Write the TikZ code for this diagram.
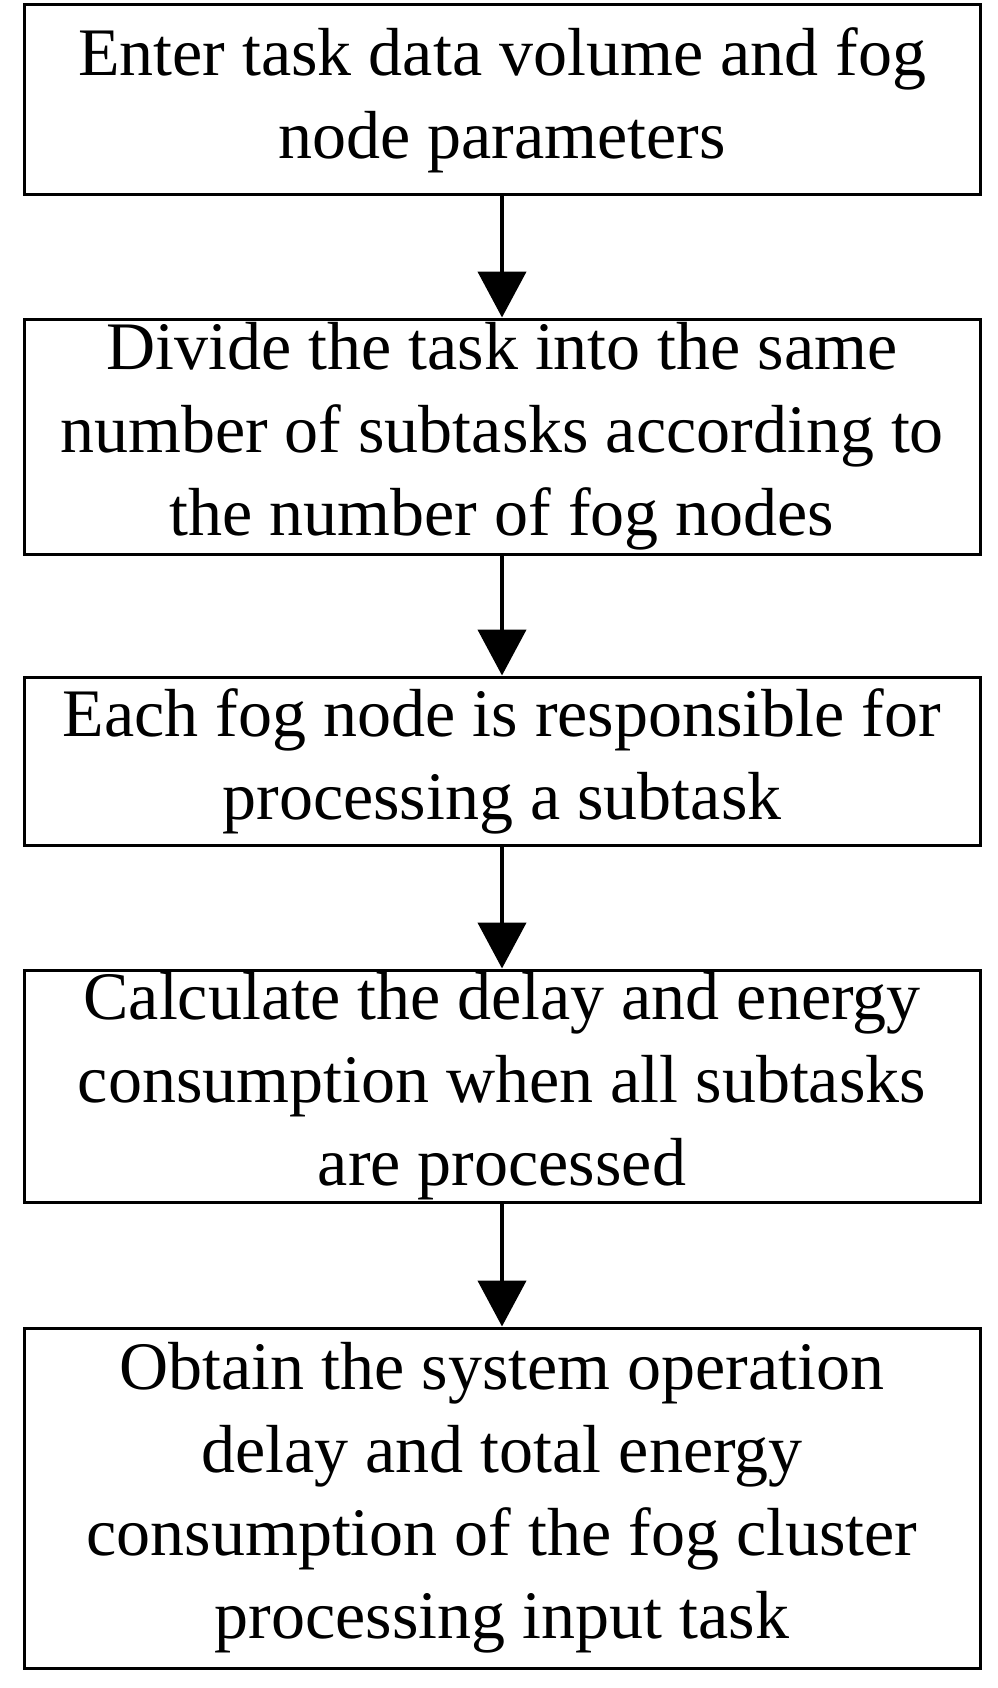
\documentclass[tikz,border=0pt]{standalone}
\usepackage{fontspec}
\setmainfont{Liberation Serif}
\usetikzlibrary{arrows.meta}
\begin{document}
\begin{tikzpicture}[x=1pt,y=-1pt,
  box/.style={draw,line width=3pt,align=center,font=\fontsize{68}{83}\selectfont,inner sep=0pt},
  arr/.style={line width=4.5pt,-{Triangle[width=48pt,length=46pt]}}]
\useasboundingbox (0,0) rectangle (997,1688);
\node[box,minimum width=956pt,minimum height=190pt] (b1) at (502,100) {Enter task data volume and fog\\node parameters};
\node[box,minimum width=956pt,minimum height=235pt] (b2) at (502,436.5) {Divide the task into the same\\number of subtasks according to\\the number of fog nodes};
\node[box,minimum width=956pt,minimum height=168pt] (b3) at (502,761) {Each fog node is responsible for\\processing a subtask};
\node[box,minimum width=956pt,minimum height=232pt] (b4) at (502,1086) {Calculate the delay and energy\\consumption when all subtasks\\are processed};
\node[box,minimum width=956pt,minimum height=340pt] (b5) at (502,1498) {Obtain the system operation\\delay and total energy\\consumption of the fog cluster\\processing input task};
\draw[arr] (b1) -- (b2);
\draw[arr] (b2) -- (b3);
\draw[arr] (b3) -- (b4);
\draw[arr] (b4) -- (b5);
\end{tikzpicture}
\end{document}
